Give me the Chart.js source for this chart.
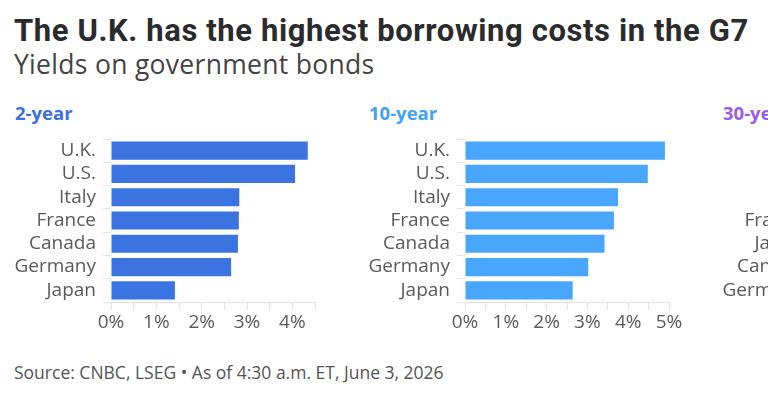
<!DOCTYPE html>
<html>
<head>
<meta charset="utf-8">
<script src="https://cdn.jsdelivr.net/npm/chart.js@4.4.1/dist/chart.umd.min.js"></script>
<style>
  html, body { margin: 0; padding: 0; background: #fff; }
  #wrap { position: relative; width: 768px; height: 402px; overflow: hidden; font-family: 'Open Sans', sans-serif; }
  .abs { position: absolute; white-space: nowrap; }
  #title { left: 14px; top: 13px; font: bold 31px 'Roboto', sans-serif; letter-spacing: 0.6px; color: #2b2b2b; line-height: 36px; }
  #subtitle { left: 14px; top: 48px; font: 400 26.5px 'Open Sans', sans-serif; letter-spacing: 0.3px; color: #444; line-height: 32px; }
  .ptitle { top: 101px; font: bold 18.5px 'Open Sans', sans-serif; line-height: 24px; }
  .panel { position: absolute; top: 130px; width: 330px; height: 210px; }
  #source { left: 14px; top: 361px; font: 17.5px 'Open Sans', sans-serif; color: #555; line-height: 22px; }
</style>
</head>
<body>
<div id="wrap">
  <div id="title" class="abs">The U.K. has the highest borrowing costs in the G7</div>
  <div id="subtitle" class="abs">Yields on government bonds</div>

  <div class="abs ptitle" style="left:15px;color:#3a6fe0">2-year</div>
  <div class="abs ptitle" style="left:369px;color:#3fa2f7">10-year</div>
  <div class="abs ptitle" style="left:723px;color:#9a5ce4">30-year</div>

  <div class="panel" style="left:15px"><canvas id="c2"></canvas></div>
  <div class="panel" style="left:369px"><canvas id="c10"></canvas></div>
  <div class="panel" style="left:723px"><canvas id="c30"></canvas></div>

  <div id="source" class="abs">Source: CNBC, LSEG • As of 4:30 a.m. ET, June 3, 2026</div>
</div>
<script>
// yields in percent
const countries2 = ['U.K.', 'U.S.', 'Italy', 'France', 'Canada', 'Germany', 'Japan'];
const yields2 = [4.34, 4.06, 2.83, 2.82, 2.80, 2.65, 1.41];

const countries10 = ['U.K.', 'U.S.', 'Italy', 'France', 'Canada', 'Germany', 'Japan'];
const yields10 = [4.90, 4.48, 3.75, 3.65, 3.42, 3.02, 2.64];

// 30-year panel is mostly cropped off in the original, values are guesses
const countries30 = ['U.K.', 'U.S.', 'Italy', 'France', 'Japan', 'Canada', 'Germany'];
const yields30 = [5.52, 5.02, 4.58, 4.40, 3.95, 3.90, 3.50];

const axisMax = [4.5, 5, 6];

const tickFont = { family: "'Open Sans', sans-serif", size: 19 };

function makeChart(id, labels, values, color, xMax) {
    const ctx = document.getElementById(id).getContext('2d');
    return new Chart(ctx, {
        type: 'bar',
        data: {
            labels: labels,
            datasets: [{
                data: values,
                backgroundColor: color,
                barPercentage: 0.78,
                categoryPercentage: 1
            }]
        },
        options: {
            indexAxis: 'y',
            responsive: true,
            maintainAspectRatio: false,
            animation: false,
            layout: { padding: { top: 9, right: 30, left: 0, bottom: 0 } },
            plugins: { legend: { display: false }, tooltip: { enabled: false } },
            scales: {
                x: {
                    min: 0,
                    max: xMax,
                    ticks: {
                        stepSize: 0.5,
                        autoSkip: false,
                        maxRotation: 0,
                        color: '#5a5a5a',
                        font: tickFont,
                        padding: 1,
                        callback: (v) => Number.isInteger(v) ? v + '%' : ''
                    },
                    grid: { drawOnChartArea: false, color: '#e2e2e2', tickLength: 8 },
                    border: { color: '#e2e2e2' },
                    afterFit: (scale) => {
                        scale.height = 38;
                        scale.paddingLeft = 0;
                        scale.paddingRight = 0;
                    }
                },
                y: {
                    ticks: { color: '#5a5a5a', font: tickFont, padding: 7, autoSkip: false },
                    grid: { drawOnChartArea: false, color: '#e2e2e2', tickLength: 8 },
                    border: { display: false },
                    afterFit: (scale) => {
                        scale.width = 96;
                        scale.paddingTop = 0;
                        scale.paddingBottom = 0;
                    }
                }
            }
        }
    });
}

makeChart('c2', countries2, yields2, '#3b73e1', axisMax[0]);
makeChart('c10', countries10, yields10, '#48a6fd', axisMax[1]);
makeChart('c30', countries30, yields30, '#9b5de5', axisMax[2]);
</script>
</body>
</html>
